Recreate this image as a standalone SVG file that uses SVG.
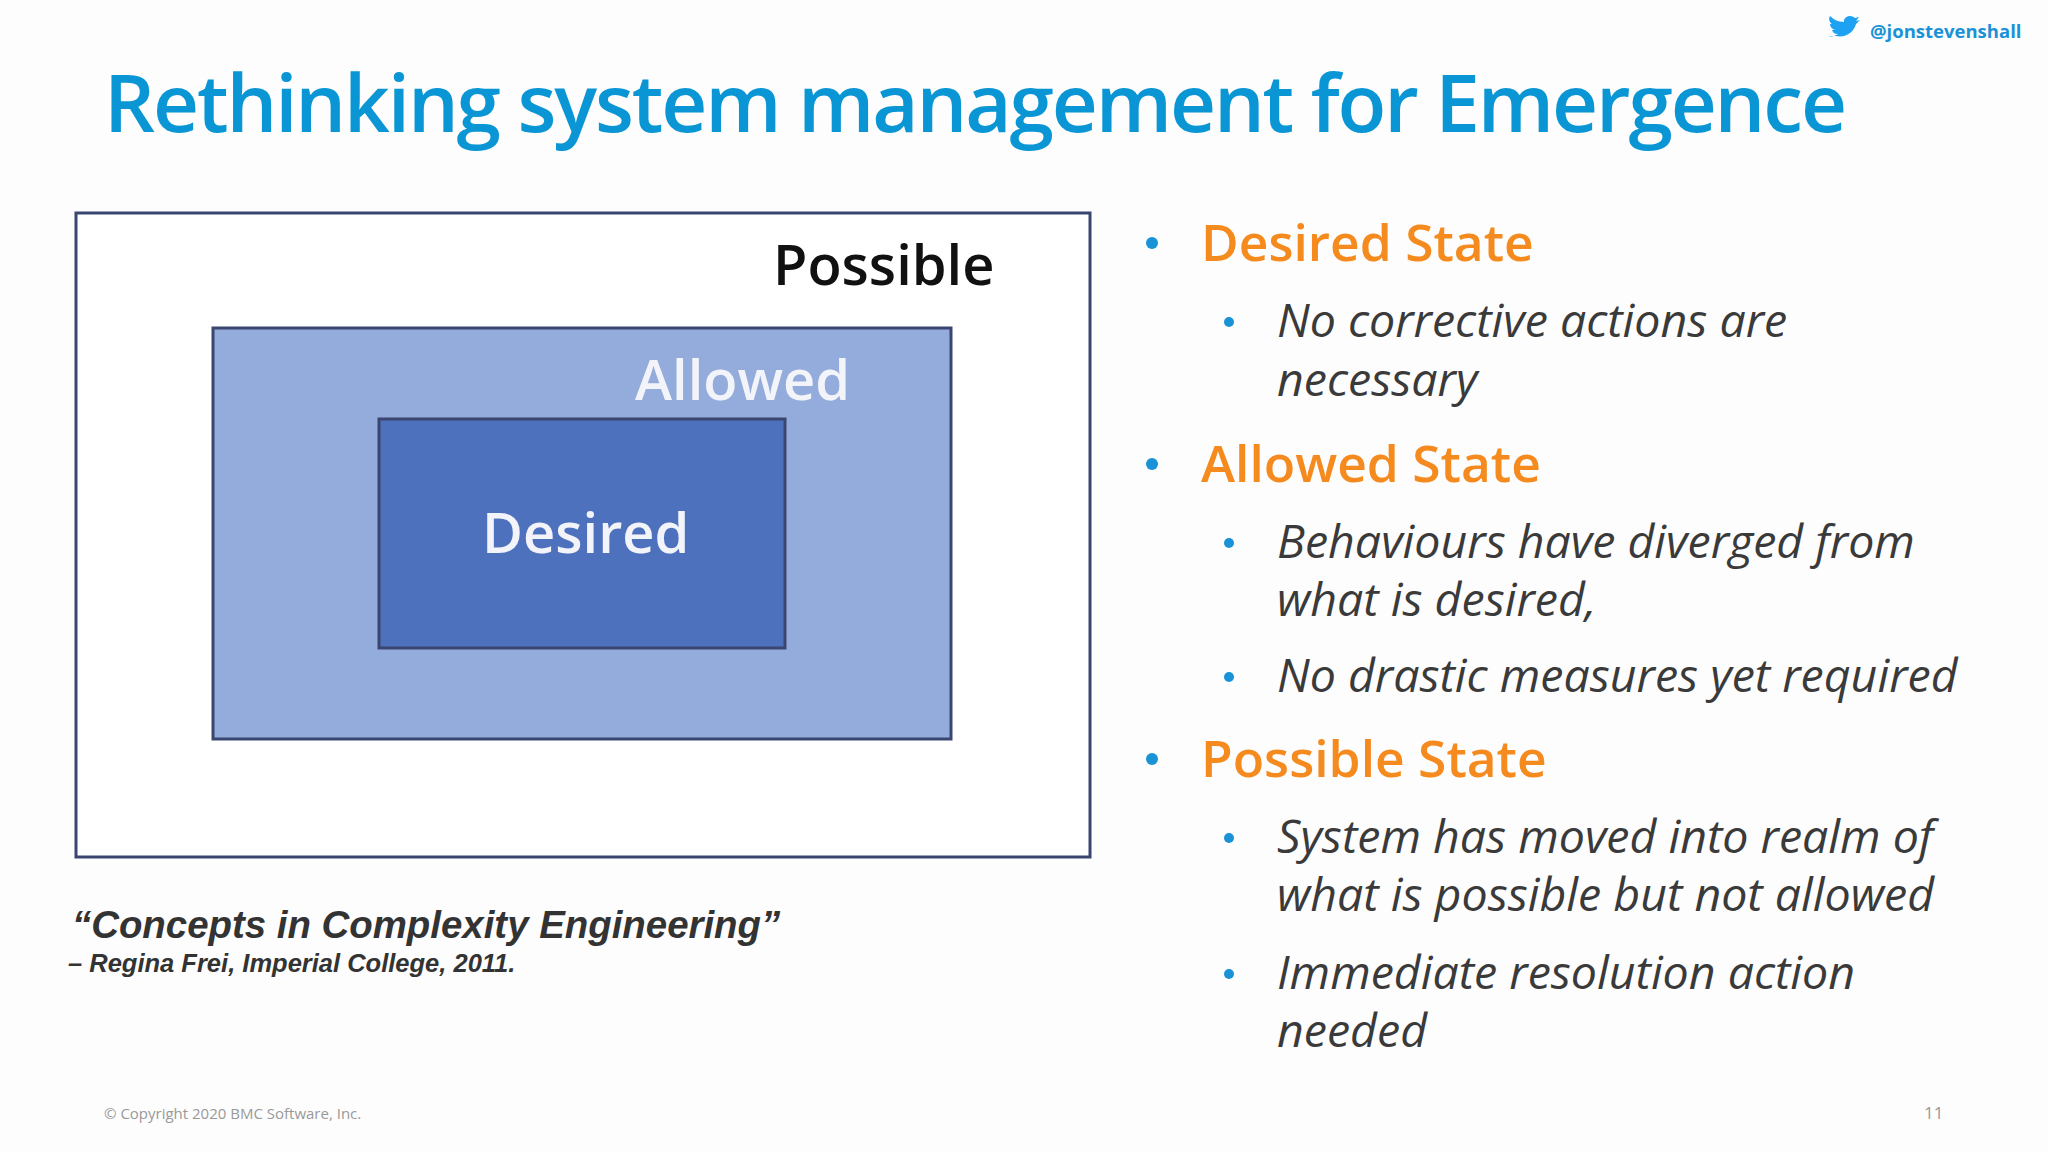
<svg xmlns="http://www.w3.org/2000/svg" width="2048" height="1152" viewBox="0 0 2048 1152">
<style>
.t{font-family:"Open Sans","Noto Sans",sans-serif}
.h{font-family:"Open Sans",sans-serif;font-weight:600;font-size:51.5px;fill:#f58a1e}
.b{font-family:"Open Sans",sans-serif;font-style:italic;font-size:46.5px;fill:#3a3a3a}
.dot{fill:#1a92d6}
.box{stroke:#3a4670;stroke-width:3}
.lb{font-family:"Open Sans",sans-serif;font-size:56px;font-weight:600}
</style>
<rect width="2048" height="1152" fill="#fdfdfd"/>
<g id="twitter">
<path d="M1836 36c10 2 18-4 20-12l4-4-4 1 3-4-4 1c-3-3-9-3-11 2v2c-6 0-11-3-14-6-2 3 0 7 2 8h-2c0 3 2 5 5 6h-3c1 3 3 4 6 4-3 2-6 3-10 2z" fill="#1da1f2"/>
<text x="1870" y="38" class="t" font-size="18.5" font-weight="700" fill="#1a92d6">@jonstevenshall</text>
</g>
<text id="title" x="104" y="132" class="t" font-size="80" font-weight="600" fill="#0a96d4" textLength="1743">Rethinking system management for Emergence</text>
<g id="possible"><rect x="76" y="213" width="1014" height="644" fill="#fff" class="box"/>
<text x="773" y="285" class="lb" fill="#111">Possible</text></g>
<g id="allowed"><rect x="213" y="328" width="738" height="411" fill="#94acdb" class="box"/>
<text x="635" y="400" class="lb" fill="#f2f4fa">Allowed</text></g>
<g id="desired"><rect x="379" y="419" width="406" height="229" fill="#4e71be" class="box"/>
<text x="482" y="553" class="lb" fill="#f2f4fa">Desired</text></g>
<g id="connectors"/>
<g id="citation" font-family="Liberation Sans,Arial,sans-serif" font-style="italic" font-weight="700" fill="#333">
<text x="72" y="938" font-size="38.4">“Concepts in Complexity Engineering”</text>
<text x="68" y="972" font-size="25.5">– Regina Frei, Imperial College, 2011.</text>
</g>
<g id="bullets">
<circle cx="1152" cy="243" r="6" class="dot"/><text x="1201" y="261" class="h">Desired State</text>
<circle cx="1229" cy="322" r="5" class="dot"/><text x="1277" y="337" class="b">No corrective actions are</text>
<text x="1277" y="396" class="b">necessary</text>
<circle cx="1152" cy="464" r="6" class="dot"/><text x="1201" y="482" class="h">Allowed State</text>
<circle cx="1229" cy="543" r="5" class="dot"/><text x="1277" y="558" class="b">Behaviours have diverged from</text>
<text x="1277" y="616" class="b">what is desired,</text>
<circle cx="1229" cy="677" r="5" class="dot"/><text x="1277" y="692" class="b">No drastic measures yet required</text>
<circle cx="1152" cy="759" r="6" class="dot"/><text x="1201" y="777" class="h">Possible State</text>
<circle cx="1229" cy="838" r="5" class="dot"/><text x="1277" y="853" class="b">System has moved into realm of</text>
<text x="1277" y="911" class="b">what is possible but not allowed</text>
<circle cx="1229" cy="974" r="5" class="dot"/><text x="1277" y="989" class="b">Immediate resolution action</text>
<text x="1277" y="1047" class="b">needed</text>
</g>
<text x="104" y="1119" class="t" font-size="15" fill="#999">© Copyright 2020 BMC Software, Inc.</text>
<text x="1924" y="1119" class="t" font-size="17" fill="#999">11</text>
</svg>
